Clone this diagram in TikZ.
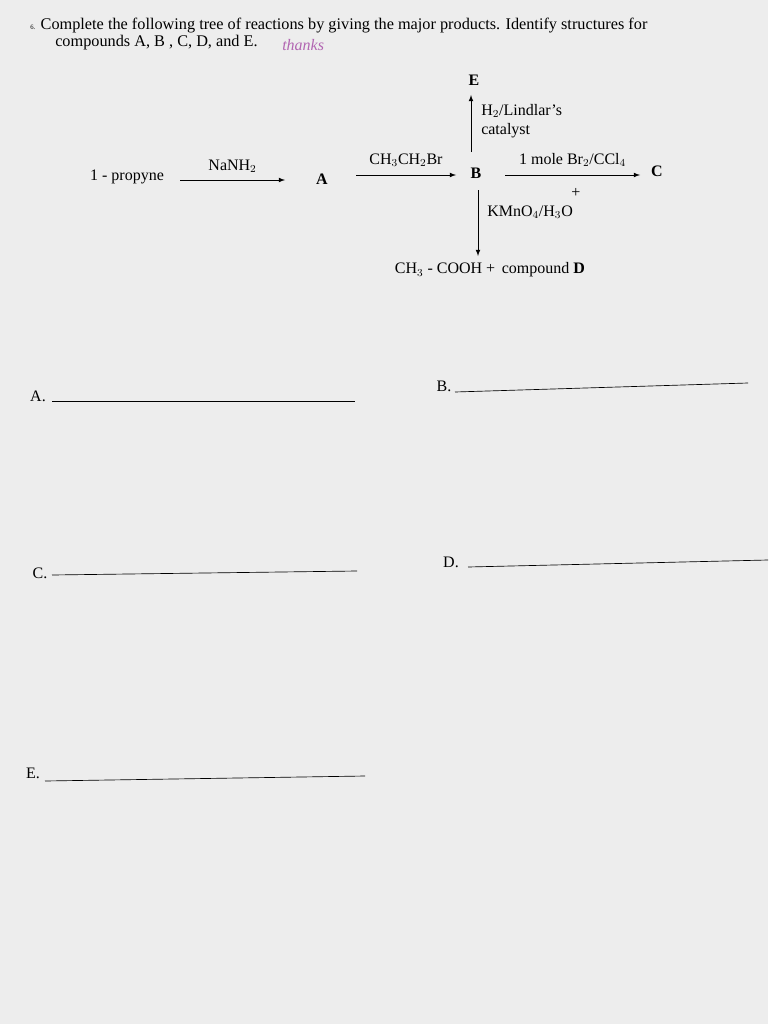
\documentclass[tikz,border=0pt]{standalone}
\usepackage{fontspec}
\setmainfont{Liberation Serif}
\begin{document}
\begin{tikzpicture}[x=0.75pt,y=-0.75pt,
  txt/.style={font=\fontsize{12}{14}\selectfont,inner sep=0pt},
  rxn/.style={-latex,line width=0.6pt},
  ans/.style={line width=0.5pt}]
\fill[black!7] (0,0) rectangle (768,1024);
\useasboundingbox (0,0) rectangle (768,1024);
\node[txt,anchor=west,font=\fontsize{12.2}{14}\selectfont] (h1) at (30,26) {{\tiny 6.} Complete the following tree of reactions by giving the major products. Identify structures for};
\node[txt,anchor=west,font=\fontsize{12.2}{14}\selectfont] (h2) at (55,43) {compounds A, B , C, D, and E.};
\node[anchor=west,inner sep=0pt,text=violet!60,font=\itshape\large] (th) at (282,45) {thanks};
\node[txt] (prop) at (127,177) {1 - propyne};
\node[txt] (A) at (322,179) {\textbf{A}};
\node[txt] (B) at (476,173) {\textbf{B}};
\node[txt] (C) at (657,171) {\textbf{C}};
\node[txt] (E) at (474,80) {\textbf{E}};
\coordinate (p1) at (180,180); \coordinate (p2) at (285,180);
\draw[rxn] (p1) -- (p2) node[txt,midway,above=5pt] {NaNH$_2$};
\coordinate (a1) at (356,175); \coordinate (a2) at (456,175);
\draw[rxn] (a1) -- (a2) node[txt,midway,above=6pt] {CH$_3$CH$_2$Br};
\coordinate (b1) at (505,175); \coordinate (b2) at (640,175);
\draw[rxn] (b1) -- (b2) node[txt,midway,above=6pt] {1 mole Br$_2$/CCl$_4$};
\coordinate (e1) at (471,152); \coordinate (e2) at (471,95);
\draw[rxn] (e1) -- (e2);
\node[txt,anchor=west] (lin) at (481,111) {H$_2$/Lindlar's};
\node[txt,anchor=west] (cat) at (481,131) {catalyst};
\coordinate (d1) at (478,190); \coordinate (d2) at (478,256);
\draw[rxn] (d1) -- (d2);
\node[txt] (plus) at (576,193) {+};
\node[txt,anchor=west] (km) at (487,212) {KMnO$_4$/H$_3$O};
\node[txt] (prod) at (490,270) {CH$_3$ - COOH +\, compound \textbf{D}};
\node[txt] (la) at (38,396) {A.};
\node[txt] (lb) at (444,386) {B.};
\node[txt] (lc) at (40,573) {C.};
\node[txt] (ld) at (451,562) {D.};
\node[txt] (le) at (33,773) {E.};
\coordinate (la1) at (52,401); \coordinate (la2) at (355,401);
\coordinate (lb1) at (455,392); \coordinate (lb2) at (748,383);
\coordinate (lc1) at (52,575); \coordinate (lc2) at (357,571);
\coordinate (ld1) at (468,567); \coordinate (ld2) at (768,560);
\coordinate (le1) at (45,781); \coordinate (le2) at (365,776);
\draw[ans] (la1)--(la2); \draw[ans] (lb1)--(lb2); \draw[ans] (lc1)--(lc2);
\draw[ans] (ld1)--(ld2); \draw[ans] (le1)--(le2);
\end{tikzpicture}
\end{document}
